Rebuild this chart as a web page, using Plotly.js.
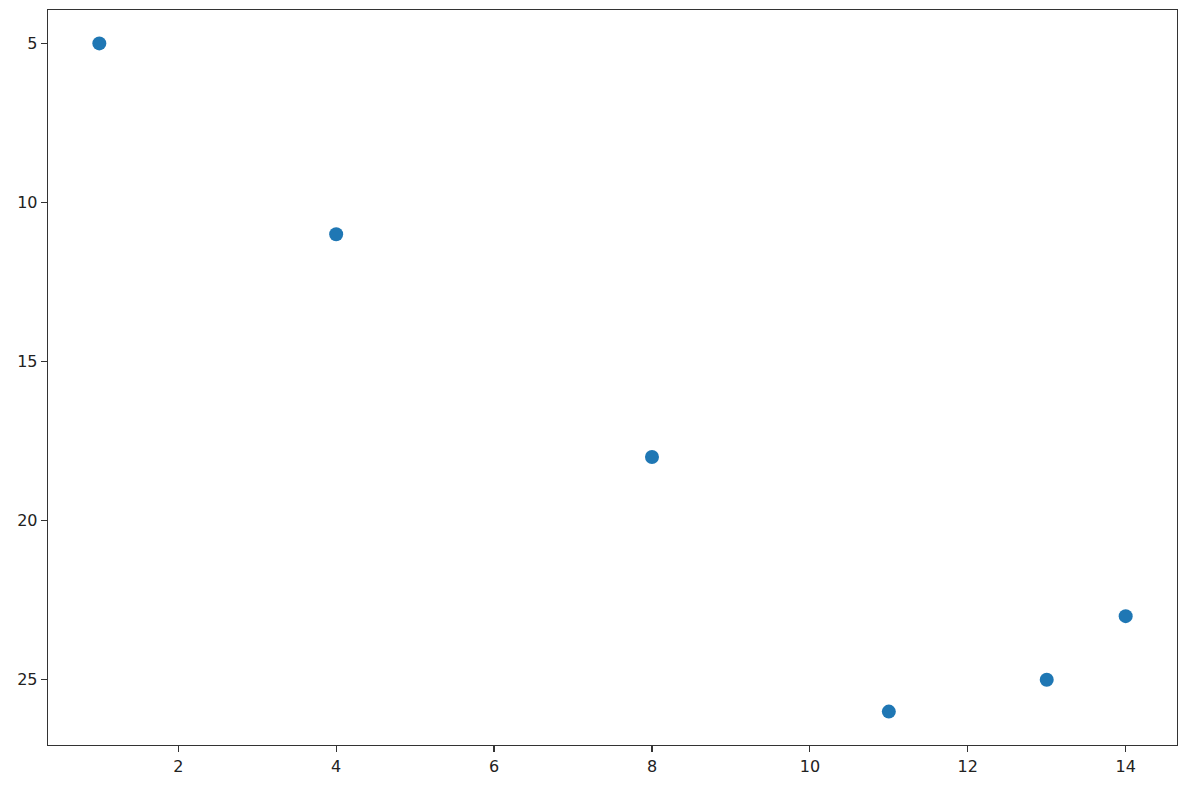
<!DOCTYPE html>
<html>
<head>
<meta charset="utf-8">
<script src="https://cdn.plot.ly/plotly-3.0.1.min.js"></script>
<style>
  html, body { margin: 0; padding: 0; background: #fff; }
  #chart { width: 1194px; height: 810px; }
</style>
</head>
<body>
<div id="chart"></div>
<script>
// points
var xVals = [1, 4, 8, 11, 13, 14];
var yVals = [5, 11, 18, 26, 25, 23];
var xTicks = [2, 4, 6, 8, 10, 12, 14];
var yTicks = [5, 10, 15, 20, 25];

var trace = {
    x: xVals, y: yVals,
    mode: 'markers',
    type: 'scatter',
    marker: {
        size: 14,
        color: '#1f77b4'
    }
};

var axisStyle = {
    showgrid: false,
    zeroline: false,
    showline: true,
    mirror: true,
    linecolor: '#333',
    linewidth: 1.3,
    ticks: 'outside',
    ticklen: 6,
    tickwidth: 1.2,
    tickcolor: '#333',
    tickfont: {family: 'DejaVu Sans', size: 16, color: '#222'}
};

var layout = {
    width: 1194,
    height: 810,
    paper_bgcolor: '#fff',
    plot_bgcolor: '#fff',
    showlegend: false,
    margin: {l: 48, r: 17, t: 10, b: 65},
    xaxis: Object.assign({}, axisStyle, {
        range: [0.35, 14.65],
        tickvals: xTicks
    }),
    yaxis: Object.assign({}, axisStyle, {
        range: [27.05, 3.95],
        tickvals: yTicks
    })
};

Plotly.newPlot('chart', [trace], layout, {displayModeBar: false, staticPlot: true});
</script>
</body>
</html>
